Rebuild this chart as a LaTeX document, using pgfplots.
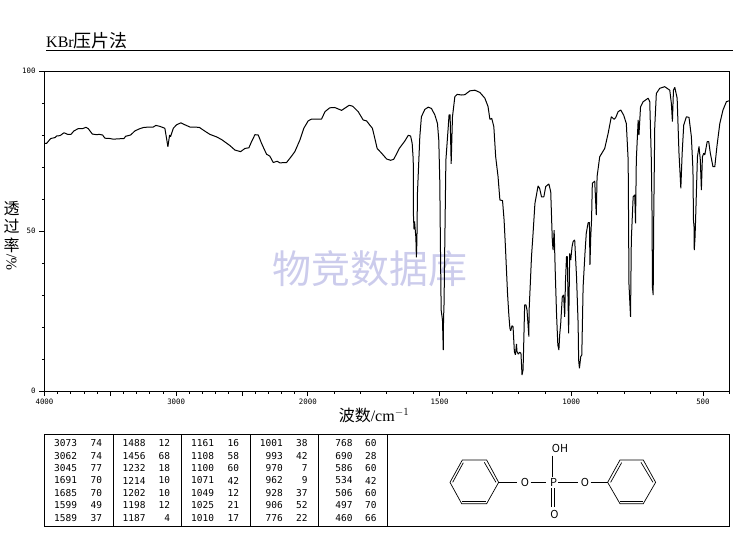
\documentclass[border=0pt]{standalone}
\usepackage{fontspec}
\usepackage{pgfplots}
\pgfplotsset{compat=1.18}
\setmainfont{Liberation Serif}
\setmonofont{DejaVu Sans Mono}
\newfontfamily\cjk{Noto Sans CJK SC}
\definecolor{watermark}{RGB}{204,204,236}

% the spectrum: wavenumber (cm^-1), transmittance (%)
\pgfplotstableread{
w T
3999 77.4
3984 77.4
3953 78.9
3920 79.2
3908 79.7
3882 79.8
3852 80.7
3824 80.2
3799 80.2
3776 81.3
3743 82.0
3711 82.0
3685 82.4
3668 82.0
3637 80.3
3604 80.1
3584 80.2
3559 80.0
3541 79.0
3503 78.9
3478 78.7
3440 78.8
3397 78.9
3384 79.6
3346 80.0
3313 81.3
3275 82.0
3243 82.4
3174 82.5
3154 83.0
3124 82.7
3086 82.1
3073 78.9
3063 76.3
3050 80.0
3043 79.5
3022 82.1
2997 83.2
2964 83.8
2934 83.2
2896 82.5
2825 82.4
2782 81.2
2744 80.2
2693 79.4
2656 78.6
2592 76.7
2554 75.3
2511 74.8
2478 75.8
2448 76.0
2428 77.9
2402 80.1
2377 80.0
2352 77.4
2314 74.0
2289 73.4
2263 71.4
2233 71.8
2213 71.3
2162 71.4
2124 73.4
2099 74.8
2061 78.4
2031 82.1
1999 84.4
1986 85.0
1948 85.0
1935 87.3
1917 88.5
1898 88.6
1872 87.7
1843 89.3
1830 89.0
1809 87.3
1790 84.7
1777 84.4
1765 83.1
1755 82.1
1746 79.0
1737 75.8
1720 74.3
1701 72.5
1686 72.1
1674 72.4
1653 75.8
1632 78.1
1619 79.9
1610 79.7
1604 77.4
1600 72.2
1599 54.5
1597 50.5
1595 53
1590 48
1588 41.8
1586 47
1584 61.8
1575 79.5
1569 85.7
1556 88.0
1543 88.7
1531 88.3
1518 86.3
1508 83.6
1503 78.4
1499 64.9
1497 47.2
1494 25.3
1489 22.2
1486 12.8
1485 22.2
1483 27.4
1480 47.2
1476 72.2
1467 82.6
1464 86.3
1460 86.3
1456 71.0
1451 85.7
1442 92.0
1433 92.7
1417 92.5
1404 92.6
1385 93.8
1366 94.0
1347 93.3
1328 91.5
1316 88.9
1309 84.9
1302 85.2
1294 82.6
1287 73.2
1278 67.0
1271 59.7
1261 59.5
1255 53.4
1250 45.1
1246 37.8
1242 30.5
1237 23.8
1233 19.6
1230 18.8
1225 20.4
1221 20.1
1216 12.3
1212 11.3
1208 14.7
1206 12.3
1201 11.5
1196 12.1
1191 11.8
1187 5.0
1183 6.6
1180 16.5
1177 26.9
1172 26.9
1168 25.3
1161 17.0
1160 25.3
1156 32.6
1151 42.0
1145 49.3
1138 58.6
1126 64.1
1120 63.3
1113 60.7
1104 60.7
1097 63.9
1085 64.7
1078 62.3
1072 47.2
1069 44.0
1065 50.3
1061 37.8
1056 24.3
1051 14.4
1047 12.8
1044 17.5
1040 21.2
1034 29.5
1029 30.0
1025 23.2
1022 34.2
1018 42.0
1015 42.0
1010 18.0
1006 43.0
1002 40.9
997 45.1
993 46.7
987 47.2
980 35.7
974 21.1
972 9.7
969 7.1
964 10.7
960 11.3
955 32.6
948 43.0
943 49.3
936 52.6
931 52.6
929 39.4
926 48.2
923 53.4
920 64.9
911 65.6
905 55.0
902 67.0
892 73.2
873 75.8
860 80.5
848 85.7
837 84.9
831 85.5
822 87.3
812 87.8
801 86.2
791 83.6
784 72.2
782 48.2
781 33.6
775 23.2
772 47.2
765 60.7
759 61.3
756 52.4
753 72.2
746 84.7
743 80.0
737 88.8
727 90.4
708 91.5
702 90.4
696 72.2
693 53.4
692 32.6
689 30.0
687 53.4
683 82.6
677 93.0
664 94.6
645 95.1
626 94.0
620 89.9
616 84.2
612 94.0
607 94.9
598 91.5
591 74.3
584 63.3
579 74.3
573 83.1
563 85.7
553 85.5
544 79.5
538 69.1
536 53.4
534 51.4
533 44.0
530 48.2
528 53.4
521 73.2
515 76.4
510 72.2
506 62.8
502 73.2
497 74.3
493 73.8
484 77.9
478 77.9
472 74.3
462 70.1
455 70.1
447 76.4
436 83.6
424 87.8
411 90.4
401 90.7
}\spectrum

\begin{document}
\begin{tikzpicture}
\useasboundingbox (0pt,0pt) rectangle (737pt,-539pt);

% watermark goes under the curve
\node[anchor=center,inner sep=0pt,text=watermark] at (369.5pt,-269pt)
  {\cjk\fontsize{39}{39}\selectfont 物竞数据库};

\begin{axis}[
    at={(44.5pt,-391pt)}, anchor=south west,
    scale only axis, width=684.8pt, height=320pt,
    % the scale doubles at 2000 cm^-1
    x coord trafo/.code={\pgfmathparse{#1>=2000 ? 4000-#1 : 6000-2*#1}},
    xmin=4000, xmax=400, ymin=0, ymax=100,
    axis line style={line width=0.9pt},
    xtick pos=bottom, ytick pos=left,
    tick align=outside, tick style={black,line width=0.8pt},
    major tick length=5pt, minor tick length=2.5pt,
    xtick={4000,3000,2000,1500,1000,500},
    xticklabels={4000,3000,2000,1500,1000,500},
    minor xtick={3900,3800,3700,3600,3500,3400,3300,3200,3100,2900,2800,2700,2600,2500,2400,2300,2200,2100,1900,1800,1700,1600,1400,1300,1200,1100,900,800,700,600,400},
    extra x ticks={3500,2500},
    extra x tick labels={},
    ytick={0,50,100},
    yticklabels={0,50,100},
    minor ytick={10,20,30,40,60,70,80,90},
    tick label style={font=\ttfamily\fontsize{7.4}{8}\selectfont},
    xticklabel style={yshift=1pt},
    yticklabel style={xshift=-0.5pt},
]
\addplot[black,line width=1pt,line join=bevel] table[x=w,y=T] {\spectrum};
\end{axis}

\begin{scope}[x=1pt,y=-1pt]
% heading
\node[anchor=base west,inner sep=0pt] at (46,47)
  {\fontsize{16}{16}\selectfont KBr\cjk\fontsize{18}{18}\selectfont 压片法};
\draw[line width=0.9pt] (46,50.5) -- (733,50.5);

% axis titles
\node[anchor=center,inner sep=0pt] at (11.5,208.5) {\cjk\fontsize{16}{16}\selectfont 透};
\node[anchor=center,inner sep=0pt] at (11.5,226.5) {\cjk\fontsize{16}{16}\selectfont 过};
\node[anchor=center,inner sep=0pt] at (11.5,245) {\cjk\fontsize{16}{16}\selectfont 率};
\node[anchor=center,inner sep=0pt,rotate=90] at (11.5,262.5) {\fontsize{15}{15}\selectfont\%/};
\node[anchor=base,inner sep=0pt] at (374,421.5)
  {\cjk\fontsize{16}{16}\selectfont 波数\rmfamily /cm$^{-1}$};

% peak table
\draw[line width=0.9pt] (44.5,434.7) rectangle (729.7,526);
\foreach \x in {113.3,181.7,250.3,318.7,387.3}
  \draw[line width=0.9pt] (\x,434.7) -- (\x,526);
\newcommand\peakcol[3]{%
  \foreach \a/\b [count=\i from 0] in {#3} {
    \node[anchor=east,inner sep=0pt] at (#1,443.3+12.4*\i) {\ttfamily\fontsize{9.5}{10}\selectfont\a};
    \node[anchor=east,inner sep=0pt] at (#2,443.3+12.4*\i) {\ttfamily\fontsize{9.5}{10}\selectfont\b};
  }}
\peakcol{77.3}{102.3}{3073/74,3062/74,3045/77,1691/70,1685/70,1599/49,1589/37}
\peakcol{145.7}{170.3}{1488/12,1456/68,1232/18,1214/10,1202/10,1198/12,1187/4}
\peakcol{214.3}{239.3}{1161/16,1108/58,1100/60,1071/42,1049/12,1025/21,1010/17}
\peakcol{283}{307.7}{1001/38,993/42,970/7,962/9,928/37,906/52,776/22}
\peakcol{352.7}{376.7}{768/60,690/28,586/60,534/42,506/60,497/70,460/66}

% structure
\begin{scope}[shift={(380,425)},x=0.3333pt,y=-0.3333pt,line width=0.7pt]
\draw (356,172) -- (320,105) -- (247,105) -- (210,172) -- (245,236) -- (320,236) -- cycle;
\draw (218,172) -- (250,113);
\draw (313,112) -- (348,172);
\draw (247,229) -- (318,229);
\draw (356,172) -- (412,172);
\draw (452,172) -- (497,172);
\draw (535,172) -- (595,172);
\draw (632,172) -- (683,172);
\draw (517,92) -- (517,155);
\draw (513,190) -- (513,247);
\draw (523,190) -- (523,247);
\draw (683,172) -- (720,105) -- (790,105) -- (827,172) -- (790,236) -- (720,236) -- cycle;
\draw (692,172) -- (725,113);
\draw (783,112) -- (819,172);
\draw (720,229) -- (790,229);
\end{scope}
\begin{scope}[font=\fontsize{11}{11}\selectfont]
\node[inner sep=0pt] at (560,448.3) {\cjk OH};
\node[inner sep=0pt] at (525,482) {\cjk O};
\node[inner sep=0pt] at (553.5,482) {\cjk P};
\node[inner sep=0pt] at (585,482) {\cjk O};
\node[inner sep=0pt] at (554.5,514) {\cjk O};
\end{scope}
\end{scope}
\end{tikzpicture}
\end{document}
